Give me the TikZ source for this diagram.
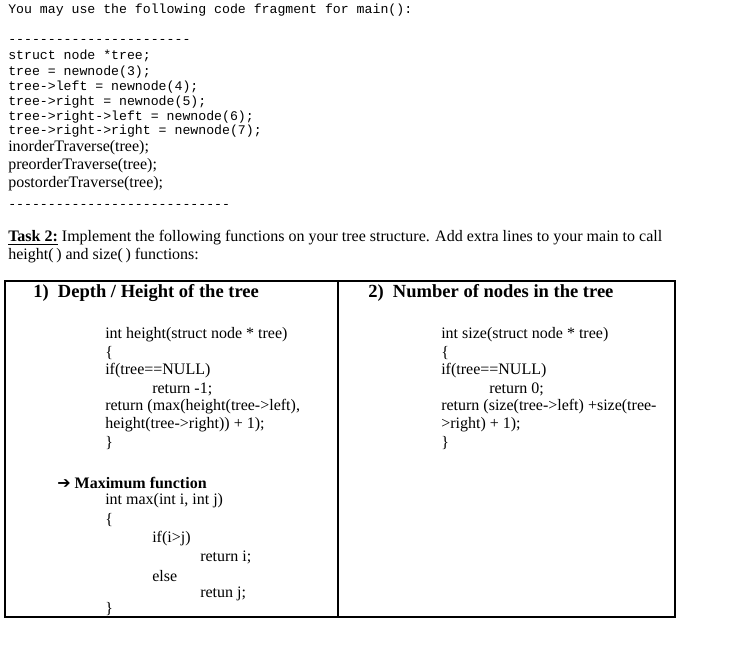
\documentclass[tikz,border=0pt]{standalone}
\usepackage{fontspec}
\setmainfont{Liberation Serif}
\setmonofont{Liberation Mono}
\newfontfamily\symfont{DejaVu Sans}
\begin{document}
\begin{tikzpicture}[x=0.75pt,y=-0.75pt,
  mono/.style={anchor=west,inner sep=0pt,font=\ttfamily\fontsize{9.9pt}{11pt}\selectfont},
  txt/.style={anchor=west,inner sep=0pt,font=\fontsize{12pt}{14pt}\selectfont},
  hdr/.style={anchor=west,inner sep=0pt,font=\bfseries\fontsize{13.9pt}{16pt}\selectfont}]
\useasboundingbox[fill=white] (0,0) rectangle (730,668);
\node[mono] (l0) at (8,10) {You may use the following code fragment for main():};
\node[mono] (d1) at (8,41) {-----------------------};
\node[mono] (l1) at (8,56) {struct node *tree;};
\node[mono] (l2) at (8,72) {tree = newnode(3);};
\node[mono] (l3) at (8,87) {tree->left = newnode(4);};
\node[mono] (l4) at (8,102) {tree->right = newnode(5);};
\node[mono] (l5) at (8,117) {tree->right->left = newnode(6);};
\node[mono] (l6) at (8,131) {tree->right->right = newnode(7);};
\node[txt] (t1) at (8,148) {inorderTraverse(tree);};
\node[txt] (t2) at (8,166) {preorderTraverse(tree);};
\node[txt] (t3) at (8,184) {postorderTraverse(tree);};
\node[mono] (d2) at (8,206) {----------------------------};
\node[txt] (task) at (8,238) {\textbf{\underline{Task 2:}} Implement the following functions on your tree structure. Add extra lines to your main to call};
\node[txt] (task2) at (8,256) {height(\,) and size(\,) functions:};
\draw[line width=0.8pt] (5,281) rectangle (675,617);
\draw[line width=0.8pt] (338,281) -- (338,617);
\node[hdr] (h1) at (33,293) {1)\ \ Depth / Height of the tree};
\node[hdr] (h2) at (368,293) {2)\ \ Number of nodes in the tree};
\node[txt] (a1) at (105,335) {int height(struct node * tree)};
\node[txt] (a2) at (105,353) {\{};
\node[txt] (a3) at (105,371) {if(tree==NULL)};
\node[txt] (a4) at (152,389) {return -1;};
\node[txt] (a5) at (105,407) {return (max(height(tree->left),};
\node[txt] (a6) at (105,425) {height(tree->right)) + 1);};
\node[txt] (a7) at (105,443) {\}};
\node[txt] (b1) at (441,335) {int size(struct node * tree)};
\node[txt] (b2) at (441,353) {\{};
\node[txt] (b3) at (441,371) {if(tree==NULL)};
\node[txt] (b4) at (489,389) {return 0;};
\node[txt] (b5) at (441,407) {return (size(tree->left) +size(tree-};
\node[txt] (b6) at (441,425) {>right) + 1);};
\node[txt] (b7) at (441,443) {\}};
\node[txt] (m0) at (57,483) {{\symfont\bfseries ➔}\ \textbf{Maximum function}};
\node[txt] (m1) at (105,501) {int max(int i, int j)};
\node[txt] (m2) at (105,520) {\{};
\node[txt] (m3) at (152,539) {if(i>j)};
\node[txt] (m4) at (200,557) {return i;};
\node[txt] (m5) at (152,576) {else};
\node[txt] (m6) at (200,594) {retun j;};
\node[txt] (m7) at (105,609) {\}};
\end{tikzpicture}
\end{document}
